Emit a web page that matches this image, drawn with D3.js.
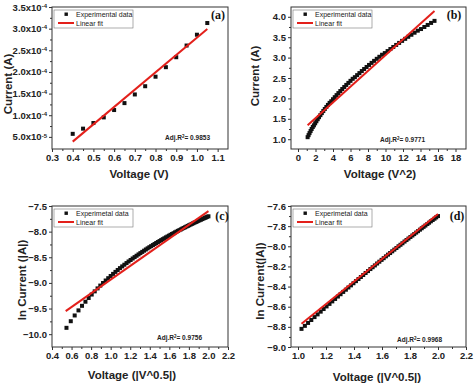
<!DOCTYPE html>
<html>
<head>
<meta charset="utf-8">
<style>
body { margin: 0; background: #fff; }
svg { display: block; font-family: "Liberation Sans", Arial, sans-serif; }
.axis .domain { display: none; }
.axis text { font-weight: bold; font-size: 9.5px; fill: #222; }
.axis line { stroke: #333; }
</style>
</head>
<body>
<svg width="474" height="384"></svg>
<script src="https://cdn.jsdelivr.net/npm/d3@7/dist/d3.min.js"></script>
<script>
// ---- data ----
// (a) I-V
var aVolt = [0.40, 0.45, 0.50, 0.55, 0.60, 0.65, 0.70, 0.75, 0.80, 0.85, 0.90, 0.95, 1.00, 1.05];
var aCur = [5.7e-5, 6.9e-5, 8.2e-5, 9.5e-5, 1.12e-4, 1.28e-4, 1.48e-4, 1.67e-4, 1.89e-4, 2.11e-4, 2.34e-4, 2.61e-4, 2.86e-4, 3.13e-4];
var aFitX = [0.40, 1.05];
var aFitY = [3.9e-5, 2.99e-4];
var aXTicks = [0.3, 0.4, 0.5, 0.6, 0.7, 0.8, 0.9, 1.0, 1.1];
var aYTicks = [5e-5, 1e-4, 1.5e-4, 2e-4, 2.5e-4, 3e-4, 3.5e-4];
var aYLabels = [["5.0x10", "-5"], ["1.0x10", "-4"], ["1.5x10", "-4"], ["2.0x10", "-4"], ["2.5x10", "-4"], ["3.0x10", "-4"], ["3.5x10", "-4"]];

// (b) I vs V^2
var bVsq = [1.10, 1.21, 1.32, 1.44, 1.56, 1.69, 1.82, 1.96, 2.10, 2.25, 2.40, 2.56, 2.72, 2.89, 3.06, 3.24, 3.42, 3.61, 3.80, 4.00,
  4.20, 4.41, 4.62, 4.84, 5.06, 5.29, 5.52, 5.76, 6.00, 6.25, 6.50, 6.76, 7.02, 7.29, 7.56, 7.84, 8.12, 8.41, 8.70, 9.00,
  9.30, 9.61, 9.92, 10.24, 10.56, 10.89, 11.22, 11.56, 11.90, 12.25, 12.60, 12.96, 13.32, 13.69, 14.06, 14.44, 14.82, 15.21, 15.60];
var bCur = [1.05, 1.10, 1.15, 1.20, 1.25, 1.30, 1.34, 1.39, 1.44, 1.49, 1.54, 1.59, 1.64, 1.69, 1.74, 1.79, 1.84, 1.89, 1.93, 1.98,
  2.03, 2.08, 2.13, 2.18, 2.23, 2.28, 2.33, 2.38, 2.43, 2.48, 2.52, 2.57, 2.62, 2.67, 2.72, 2.77, 2.82, 2.87, 2.92, 2.97,
  3.02, 3.07, 3.11, 3.16, 3.21, 3.26, 3.31, 3.36, 3.41, 3.46, 3.51, 3.56, 3.61, 3.66, 3.70, 3.75, 3.80, 3.85, 3.90];
var bFitX = [1.1, 15.6];
var bFitY = [1.34, 4.14];
var bXTicks = [0, 2, 4, 6, 8, 10, 12, 14, 16, 18];
var bYTicks = [1.0, 1.5, 2.0, 2.5, 3.0, 3.5, 4.0];

// (c) ln I vs V^0.5
var cVsqrt = [0.548, 0.592, 0.632, 0.671, 0.707, 0.742, 0.775, 0.806, 0.837, 0.866, 0.894, 0.922, 0.949, 0.975, 1.000,
  1.025, 1.049, 1.072, 1.095, 1.118, 1.140, 1.162, 1.183, 1.204, 1.225, 1.245, 1.265, 1.285, 1.304, 1.323, 1.342, 1.360,
  1.378, 1.396, 1.414, 1.432, 1.449, 1.466, 1.483, 1.500, 1.517, 1.533, 1.549, 1.565, 1.581, 1.597, 1.612, 1.628, 1.643,
  1.658, 1.673, 1.688, 1.703, 1.718, 1.732, 1.746, 1.761, 1.775, 1.789, 1.803, 1.817, 1.830, 1.844, 1.857, 1.871, 1.884,
  1.897, 1.910, 1.924, 1.936, 1.949, 1.962, 1.975, 1.987, 2.000];
var cLnCur = [-9.876, -9.747, -9.635, -9.536, -9.447, -9.367, -9.294, -9.227, -9.165, -9.107, -9.052, -9.002, -8.953, -8.908, -8.865,
  -8.824, -8.785, -8.748, -8.712, -8.678, -8.645, -8.613, -8.582, -8.553, -8.524, -8.497, -8.470, -8.444, -8.419, -8.395, -8.371, -8.348,
  -8.326, -8.304, -8.283, -8.262, -8.242, -8.222, -8.203, -8.184, -8.165, -8.147, -8.130, -8.112, -8.095, -8.079, -8.062, -8.046, -8.031,
  -8.015, -8.000, -7.985, -7.971, -7.956, -7.942, -7.928, -7.915, -7.901, -7.888, -7.875, -7.862, -7.849, -7.837, -7.825, -7.813, -7.801,
  -7.789, -7.777, -7.766, -7.755, -7.744, -7.733, -7.722, -7.711, -7.701];
var cFitX = [0.54, 2.0];
var cFitY = [-9.55, -7.60];
var cXTicks = [0.4, 0.6, 0.8, 1.0, 1.2, 1.4, 1.6, 1.8, 2.0, 2.2];
var cYTicks = [-10.0, -9.5, -9.0, -8.5, -8.0, -7.5];

// (d) ln I vs V^0.5, higher range
var dVsqrt = [1.025, 1.049, 1.072, 1.095, 1.118, 1.140, 1.162, 1.183, 1.204, 1.225, 1.245, 1.265, 1.285, 1.304, 1.323,
  1.342, 1.360, 1.378, 1.396, 1.414, 1.432, 1.449, 1.466, 1.483, 1.500, 1.517, 1.533, 1.549, 1.565, 1.581, 1.597, 1.612,
  1.628, 1.643, 1.658, 1.673, 1.688, 1.703, 1.718, 1.732, 1.746, 1.761, 1.775, 1.789, 1.803, 1.817, 1.830, 1.844, 1.857,
  1.871, 1.884, 1.897, 1.910, 1.924, 1.936, 1.949, 1.962, 1.975, 1.987, 2.000];
var dLnCur = [-8.820, -8.790, -8.761, -8.732, -8.703, -8.676, -8.649, -8.623, -8.597, -8.572, -8.547, -8.523, -8.499, -8.476, -8.453,
  -8.431, -8.409, -8.388, -8.367, -8.346, -8.325, -8.305, -8.285, -8.265, -8.246, -8.226, -8.208, -8.190, -8.171, -8.153, -8.135, -8.118,
  -8.100, -8.083, -8.067, -8.050, -8.033, -8.017, -8.000, -7.985, -7.970, -7.953, -7.938, -7.923, -7.908, -7.893, -7.879, -7.864, -7.850,
  -7.835, -7.821, -7.807, -7.794, -7.779, -7.766, -7.752, -7.739, -7.726, -7.713, -7.700];
var dFitX = [1.025, 2.0];
var dFitY = [-8.77, -7.68];
var dXTicks = [1.0, 1.2, 1.4, 1.6, 1.8, 2.0, 2.2];
var dYTicks = [-9.0, -8.8, -8.6, -8.4, -8.2, -8.0, -7.8, -7.6];

var panels = [
  {tag: "(a)", x: aVolt, y: aCur, fx: aFitX, fy: aFitY, xt: aXTicks, yt: aYTicks, ylab: aYLabels,
   xd: [0.3, 1.15], yd: [2.2e-5, 3.5e-4], box: [52, 228, 7, 149], xf: ".1f",
   legend: "Experimental data", r2: "0.9853", r2pos: [210, 140], tagpos: [218, 19],
   xTitle: "Voltage (V)", xTitlePos: [139, 178], yTitle: "Current (A)", yTitlePos: [12, 84]},
  {tag: "(b)", x: bVsq, y: bCur, fx: bFitX, fy: bFitY, xt: bXTicks, yt: bYTicks,
   xd: [-0.8, 19.2], yd: [0.76, 4.24], box: [291, 466, 7, 149], xf: "d", yf: ".1f",
   legend: "Experimental data", r2: "0.9771", r2pos: [425, 142], tagpos: [454, 19],
   xTitle: "Voltage (V^2)", xTitlePos: [380, 178], yTitle: "Current (A)", yTitlePos: [259, 76]},
  {tag: "(c)", x: cVsqrt, y: cLnCur, fx: cFitX, fy: cFitY, xt: cXTicks, yt: cYTicks,
   xd: [0.4, 2.2], yd: [-10.25, -7.5], box: [52, 228, 206, 347], xf: ".1f", yf: ".1f",
   legend: "Experimetal data", r2: "0.9756", r2pos: [202, 340], tagpos: [222, 220],
   xTitle: "Voltage (|V^0.5|)", xTitlePos: [132, 379], yTitle: "ln Current (|A|)", yTitlePos: [26, 280]},
  {tag: "(d)", x: dVsqrt, y: dLnCur, fx: dFitX, fy: dFitY, xt: dXTicks, yt: dYTicks,
   xd: [0.95, 2.2], yd: [-9.0, -7.6], box: [291, 466, 206, 347], xf: ".1f", yf: ".1f",
   legend: "Experimetal data", r2: "0.9968", r2pos: [442, 342], tagpos: [457, 220],
   xTitle: "Voltage (|V^0.5|)", xTitlePos: [377, 381], yTitle: "ln Current(|A|)", yTitlePos: [264, 281]}
];

var svg = d3.select("svg");
var RED = "#e3201b";

function minorOf(t) {
  var m = [];
  for (var i = 0; i < t.length - 1; i++) m.push((t[i] + t[i + 1]) / 2);
  return m;
}

panels.forEach(function(p) {
  var L = p.box[0], R = p.box[1], T = p.box[2], B = p.box[3];
  var x = d3.scaleLinear().domain(p.xd).range([L, R]);
  var y = d3.scaleLinear().domain(p.yd).range([B, T]);
  var g = svg.append("g");

  // minor ticks
  g.append("g").attr("class", "axis").attr("transform", "translate(0," + B + ")")
    .call(d3.axisBottom(x).tickValues(minorOf(p.xt)).tickSize(2).tickFormat(""));
  g.append("g").attr("class", "axis").attr("transform", "translate(" + L + ",0)")
    .call(d3.axisLeft(y).tickValues(minorOf(p.yt)).tickSize(2).tickFormat(""));

  // major ticks
  g.append("g").attr("class", "axis").attr("transform", "translate(0," + B + ")")
    .call(d3.axisBottom(x).tickValues(p.xt).tickSize(3).tickPadding(2).tickFormat(d3.format(p.xf)));
  var ya = g.append("g").attr("class", "axis").attr("transform", "translate(" + L + ",0)")
    .call(d3.axisLeft(y).tickValues(p.yt).tickSize(3).tickPadding(2).tickFormat(p.yf ? d3.format(p.yf) : ""));

  if (p.ylab) {
    ya.selectAll(".tick text").each(function(d, i) {
      var t = d3.select(this);
      t.text(p.ylab[i][0]);
      t.append("tspan").attr("dy", "-0.45em").style("font-size", "6px").text(p.ylab[i][1]);
    });
  }

  // frame
  g.append("rect").attr("x", L).attr("y", T).attr("width", R - L).attr("height", B - T)
    .attr("fill", "none").attr("stroke", "#333").attr("stroke-width", 1);

  // markers
  var pts = p.x.map(function(v, i) { return [v, p.y[i]]; });
  g.append("g").selectAll("rect").data(pts).enter().append("rect")
    .attr("x", function(d) { return x(d[0]) - 2; })
    .attr("y", function(d) { return y(d[1]) - 2; })
    .attr("width", 4).attr("height", 4)
    .attr("fill", "#111");

  // fit line
  var fit = p.fx.map(function(v, i) { return [x(v), y(p.fy[i])]; });
  g.append("path").attr("d", d3.line()(fit))
    .attr("stroke", RED).attr("stroke-width", 2).attr("fill", "none");

  // legend
  var lg = g.append("g").attr("transform", "translate(" + (L + 2) + "," + (T + 3) + ")");
  lg.append("rect").attr("width", 79).attr("height", 18).attr("fill", "#fff")
    .attr("stroke", "#777").attr("stroke-width", 0.6);
  lg.append("rect").attr("x", 10.5).attr("y", 2.5).attr("width", 3.4).attr("height", 3.4).attr("fill", "#111");
  lg.append("text").attr("x", 22).attr("y", 6.8).attr("font-size", 7).attr("fill", "#222").text(p.legend);
  lg.append("line").attr("x1", 4).attr("x2", 20).attr("y1", 13).attr("y2", 13)
    .attr("stroke", RED).attr("stroke-width", 2);
  lg.append("text").attr("x", 22).attr("y", 15.5).attr("font-size", 7).attr("fill", "#222").text("Linear fit");

  // panel tag
  g.append("text").attr("x", p.tagpos[0]).attr("y", p.tagpos[1]).attr("text-anchor", "middle")
    .attr("font-family", "'Liberation Serif', 'Times New Roman', serif").attr("font-weight", "bold")
    .attr("font-size", 12).attr("fill", "#111").text(p.tag);

  // Adj. R^2
  var r = g.append("text").attr("x", p.r2pos[0]).attr("y", p.r2pos[1]).attr("text-anchor", "end")
    .attr("font-size", 6.5).attr("font-weight", "bold").attr("fill", "#222");
  r.append("tspan").text("Adj.R");
  r.append("tspan").attr("dy", -2.5).attr("font-size", 4.5).text("2");
  r.append("tspan").attr("dy", 2.5).text("= " + p.r2);

  // axis titles
  g.append("text").attr("x", p.xTitlePos[0]).attr("y", p.xTitlePos[1]).attr("text-anchor", "middle")
    .attr("font-size", 11.5).attr("font-weight", "bold").attr("fill", "#222").text(p.xTitle);
  g.append("text").attr("transform", "translate(" + p.yTitlePos[0] + "," + p.yTitlePos[1] + ") rotate(-90)")
    .attr("text-anchor", "middle").attr("font-size", 11.5).attr("font-weight", "bold").attr("fill", "#222")
    .text(p.yTitle);
});
</script>
</body>
</html>
